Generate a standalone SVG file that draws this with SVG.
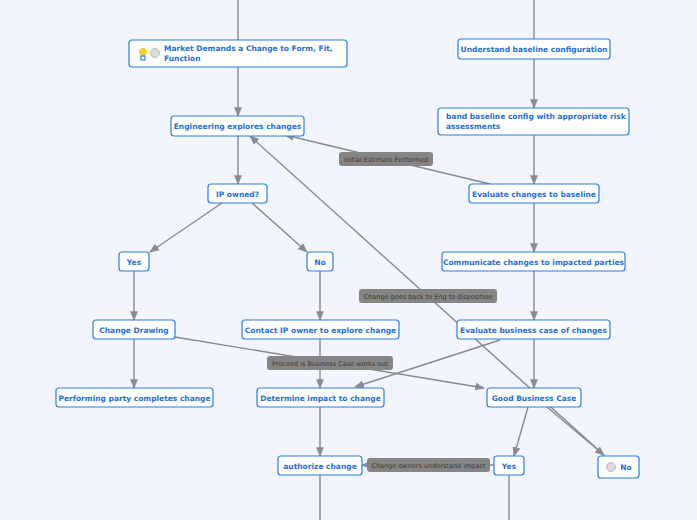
<svg xmlns="http://www.w3.org/2000/svg" width="697" height="520" viewBox="0 0 697 520">
<style>
.n rect{fill:#fff;stroke:#2a7fe0;stroke-width:1.2}
.n text{font-family:"DejaVu Sans",sans-serif;font-size:7.5px;font-weight:bold;fill:#1f6fd0;text-anchor:middle}
.c path{fill:none;stroke:#8a8a90;stroke-width:1.4}
.l rect{fill:#858585}
.l text{font-family:"DejaVu Sans",sans-serif;font-size:6.5px;fill:#3a3a3a;text-anchor:middle}
</style>
<defs><marker id="a" viewBox="0 0 10 10" refX="9" refY="5" markerWidth="7" markerHeight="7" orient="auto"><path d="M0,1 L10,5 L0,9 z" fill="#8a8a90"/></marker></defs>
<rect width="697" height="520" fill="#f2f5fe"/>
<g class="c">
<path d="M238,0 V40"/>
<path d="M534,0 V39"/>
<path d="M238,67 V116" marker-end="url(#a)"/>
<path d="M534,59 V108" marker-end="url(#a)"/>
<path d="M534,135 V184" marker-end="url(#a)"/>
<path d="M534,203 V252" marker-end="url(#a)"/>
<path d="M534,271 V320" marker-end="url(#a)"/>
<path d="M534,339 V388" marker-end="url(#a)"/>
<path d="M490,184 L285,135" marker-end="url(#a)"/>
<path d="M238,136 V184" marker-end="url(#a)"/>
<path d="M222,203 L150,252" marker-end="url(#a)"/>
<path d="M252,203 L307,252" marker-end="url(#a)"/>
<path d="M134,271 V320" marker-end="url(#a)"/>
<path d="M320,271 V320" marker-end="url(#a)"/>
<path d="M134,339 V388" marker-end="url(#a)"/>
<path d="M320,339 V388" marker-end="url(#a)"/>
<path d="M320,407 V456" marker-end="url(#a)"/>
<path d="M175,337 L484,388" marker-end="url(#a)"/>
<path d="M500,340 L355,387" marker-end="url(#a)"/>
<path d="M528,407 L514,456" marker-end="url(#a)"/>
<path d="M547,407 L604,455" marker-end="url(#a)"/>
<path d="M604,455 L250,136" marker-end="url(#a)"/>
<path d="M494,465 L362,465" marker-end="url(#a)"/>
<path d="M320,475 V520"/>
<path d="M509,475 V520"/>
</g>
<g class="l">
<rect x="339" y="152" width="94" height="14" rx="3"/><text x="386" y="161.5">Initial Estimate Performed</text>
<rect x="359" y="289" width="138" height="14" rx="3"/><text x="428" y="298.5">Change goes back to Eng to disposition</text>
<rect x="267" y="356" width="126" height="14" rx="3"/><text x="330" y="365.5">Proceed is Business Case works out</text>
<rect x="367" y="458" width="123" height="14" rx="3"/><text x="428.5" y="467.5">Change owners understand impact</text>
</g>
<g id="market" class="n"><rect x="129" y="40" width="218" height="27" rx="3"/>
<circle cx="143" cy="52" r="4" fill="#f5d12a"/><rect x="141" y="56" width="4" height="4" fill="#999" stroke="none"/>
<circle cx="155" cy="53" r="4.5" fill="#ddd" stroke="#aaa" stroke-width="0.8"/>
<text x="164" y="51" style="text-anchor:start">Market Demands a Change to Form, Fit,</text><text x="164" y="61" style="text-anchor:start">Function</text></g>
<g id="understand" class="n"><rect x="458" y="39" width="152" height="20" rx="3"/><text x="534" y="52">Understand baseline configuration</text></g>
<g id="eng" class="n"><rect x="171" y="116" width="133" height="20" rx="3"/><text x="237.5" y="129">Engineering explores changes</text></g>
<g id="band" class="n"><rect x="438" y="108" width="191" height="27" rx="3"/><text x="446" y="119" style="text-anchor:start">band baseline config with appropriate risk</text><text x="446" y="129" style="text-anchor:start">assessments</text></g>
<g id="ip" class="n"><rect x="208" y="184" width="59" height="19" rx="3"/><text x="237.5" y="196.5">IP owned?</text></g>
<g id="evalchg" class="n"><rect x="469" y="184" width="130" height="19" rx="3"/><text x="534" y="196.5">Evaluate changes to baseline</text></g>
<g id="yes1" class="n"><rect x="119" y="252" width="30" height="19" rx="3"/><text x="134" y="264.5">Yes</text></g>
<g id="no1" class="n"><rect x="307" y="252" width="26" height="19" rx="3"/><text x="320" y="264.5">No</text></g>
<g id="comm" class="n"><rect x="442" y="252" width="183" height="19" rx="3"/><text x="533.5" y="264.5">Communicate changes to impacted parties</text></g>
<g id="draw" class="n"><rect x="93" y="320" width="82" height="19" rx="3"/><text x="134" y="332.5">Change Drawing</text></g>
<g id="contact" class="n"><rect x="242" y="320" width="157" height="19" rx="3"/><text x="320.5" y="332.5">Contact IP owner to explore change</text></g>
<g id="evalbiz" class="n"><rect x="457" y="320" width="153" height="19" rx="3"/><text x="533.5" y="332.5">Evaluate business case of changes</text></g>
<g id="perf" class="n"><rect x="56" y="388" width="157" height="19" rx="3"/><text x="134.5" y="400.5">Performing party completes change</text></g>
<g id="det" class="n"><rect x="257" y="388" width="127" height="19" rx="3"/><text x="320.5" y="400.5">Determine impact to change</text></g>
<g id="good" class="n"><rect x="487" y="388" width="94" height="19" rx="3"/><text x="534" y="400.5">Good Business Case</text></g>
<g id="auth" class="n"><rect x="278" y="456" width="84" height="19" rx="3"/><text x="320" y="468.5">authorize change</text></g>
<g id="yes2" class="n"><rect x="494" y="456" width="30" height="19" rx="3"/><text x="509" y="468.5">Yes</text></g>
<g id="no2" class="n"><rect x="598" y="456" width="41" height="22" rx="3"/><circle cx="611" cy="467" r="4.5" fill="#ddd" stroke="#aaa" stroke-width="0.8"/><text x="626" y="470">No</text></g>
</svg>
